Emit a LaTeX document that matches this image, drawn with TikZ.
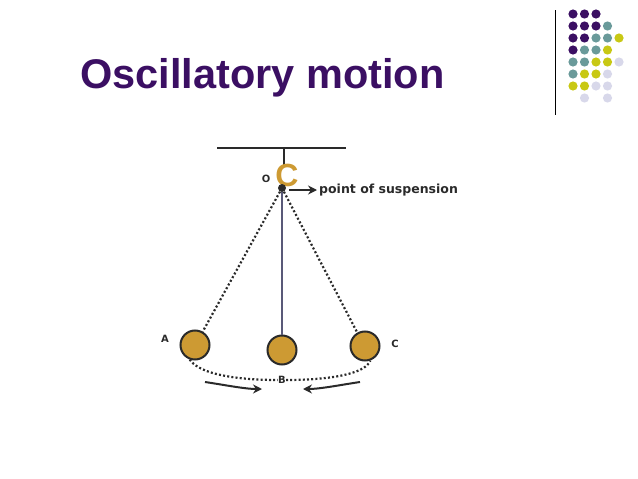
\documentclass[tikz,border=0pt]{standalone}
\usepackage{fontspec}
\setmainfont{Liberation Sans}
\newfontfamily\dv{DejaVu Sans}
\usetikzlibrary{arrows.meta}
\definecolor{pp}{HTML}{3B0F63}
\definecolor{tl}{HTML}{6A9A9A}
\definecolor{yl}{HTML}{C8C814}
\definecolor{lv}{HTML}{D8D8EA}
\definecolor{gold}{HTML}{CD9A33}
\definecolor{dk}{HTML}{2A2A2A}
\tikzset{bob/.style={circle,draw=dk,line width=2pt,fill=gold,minimum size=29pt,inner sep=0pt},
dots/.style={dk,line width=2.2pt,dash pattern=on 2pt off 2.2pt},
lbl/.style={font=\dv\bfseries\fontsize{10}{11}\selectfont,text=dk,inner sep=0pt},
arr/.style={dk,line width=2pt,-{Stealth[length=9pt,width=9pt]}}}
\begin{document}
\begin{tikzpicture}[x=1pt,y=-1pt]
\useasboundingbox (0,0) rectangle (638,479);
\node[anchor=base west,inner sep=0pt,text=pp,font=\bfseries\fontsize{41.5}{44}\selectfont] (title) at (80,88) {Oscillatory motion};
\draw[line width=1pt] (555,10) -- (555,115);
\foreach \r/\cs in {14/{1/pp,2/pp,3/pp},26/{1/pp,2/pp,3/pp,4/tl},38/{1/pp,2/pp,3/tl,4/tl,5/yl},50/{1/pp,2/tl,3/tl,4/yl},62/{1/tl,2/tl,3/yl,4/yl,5/lv},74/{1/tl,2/yl,3/yl,4/lv},86/{1/yl,2/yl,3/lv,4/lv},98/{2/lv,4/lv}}{
  \foreach \c/\col in \cs {\fill[\col] ({561.5+11.5*\c},\r) circle (4.6pt);}}
% pendulum
\draw[dk,line width=2pt] (217,148) -- (346,148);
\coordinate (top) at (284,148);
\coordinate (stub) at (284,166);
\draw[dk,line width=2pt] (top) -- (stub);
\node[text=gold,font=\bfseries\fontsize{32}{32}\selectfont,inner sep=0pt] (hook) at (287,175) {C};
\node[circle,fill=dk,minimum size=8pt,inner sep=0pt] (O) at (282,188) {};
\node[lbl] (Ol) at (266,179) {O};
\coordinate (ps) at (317,190);
\draw[arr] (289,190) -- (ps);
\node[lbl,anchor=west,font=\dv\bfseries\fontsize{12.5}{13}\selectfont] (pst) at (319,190) {point of suspension};
\node[bob] (A) at (195,345) {};
\node[bob] (B) at (282,350) {};
\node[bob] (C) at (365,346) {};
\draw[color=black!60!blue!30!gray,line width=2.4pt] (O) -- (B);
\draw[dots] (O) -- (A.60);
\draw[dots] (O) -- (C.120);
\node[lbl] (Al) at (165,339) {A};
\node[lbl] (Cl) at (395,344) {C};
\node[lbl] (Bl) at (282,380) {B};
\draw[dots] (A.-110) .. controls (200,375) and (240,380) .. (Bl.west);
\draw[dots] (Bl.east) .. controls (325,380) and (365,375) .. (C.-70);
\coordinate (la) at (262,389);
\coordinate (ra) at (303,389);
\draw[arr] (205,382) .. controls (225,385) and (245,389) .. (la);
\draw[arr] (360,382) .. controls (340,385) and (320,389) .. (ra);
\end{tikzpicture}
\end{document}
